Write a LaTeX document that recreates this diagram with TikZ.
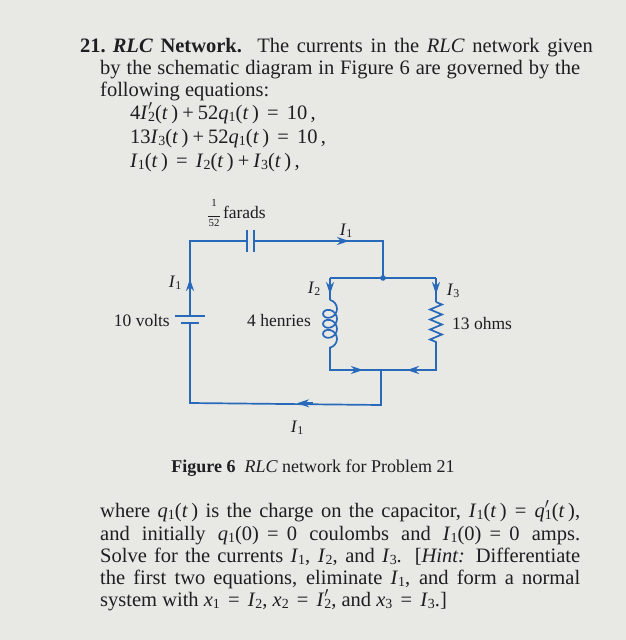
\documentclass[tikz,border=0pt]{standalone}
\usepackage{fontspec}
\usepackage{graphicx}
\setmainfont{Liberation Serif}
\usetikzlibrary{decorations.pathmorphing,decorations.markings,arrows.meta}
\definecolor{page}{RGB}{232,232,228}
\definecolor{wire}{RGB}{40,105,185}
\definecolor{ink}{RGB}{30,30,35}
\tikzset{
  w/.style={draw=wire,line width=1.7pt},
  txt/.style={anchor=base west,inner sep=0pt,text=ink,font=\fontsize{20.5}{22}\selectfont},
  lbl/.style={inner sep=1pt,text=ink,font=\fontsize{17.5}{20}\selectfont},
  arr/.style={w,-{Stealth[length=12pt,width=8pt]}},
}
\newcommand\jl[1]{\hbox to 480pt{#1}}
\newcommand\sbx[1]{\raisebox{-0.3ex}{\scalebox{0.68}{#1}}}
\newcommand\V[2]{\textit{#1}\sbx{#2}}
\newcommand\Vp[2]{\textit{#1}\rlap{\raisebox{0.1ex}{$'$}}\sbx{#2}}
\newcommand\eq{\hspace{0.4em}=\hspace{0.4em}}
\newcommand\pl{\hspace{0.2em}+\hspace{0.2em}}
\newcommand\tpar{(\textit{t}\,)}
\begin{document}
\begin{tikzpicture}[x=1pt,y=-1pt]
\fill[page] (0,0) rectangle (626,640);
\useasboundingbox (0,0) rectangle (626,640);
% text
\node[txt] (t1) at (80,52) {\textbf{21.}\hbox to 7pt{}\hbox to 480pt{\textbf{\textit{RLC} Network.}\ \ The currents in the \textit{RLC} network given}};
\node[txt] (t2) at (100,74) {\jl{by the schematic diagram in Figure 6 are governed by the}};
\node[txt] (t3) at (100,96) {following equations:};
\node[txt] (e1) at (130,119) {4\Vp{I}{2}\tpar\pl52\V{q}{1}\tpar\eq10\,,};
\node[txt] (e2) at (130,143) {13\V{I}{3}\tpar\pl52\V{q}{1}\tpar\eq10\,,};
\node[txt] (e3) at (130,167) {\V{I}{1}\tpar\eq\V{I}{2}\tpar\pl\V{I}{3}\tpar\,,};
\node[txt,anchor=base,font=\fontsize{18}{21}\selectfont] (cap) at (313,472) {\textbf{Figure 6}\ \ \textit{RLC} network for Problem 21};
\node[txt] (p1) at (100,517) {\jl{where \V{q}{1}\tpar\ is the charge on the capacitor, \V{I}{1}\tpar\eq\Vp{q}{1}\tpar,}};
\node[txt] (p2) at (100,540) {\jl{and initially \V{q}{1}(0)\eq0 coulombs and \V{I}{1}(0)\eq0 amps.}};
\node[txt] (p3) at (100,562) {\jl{Solve for the currents \V{I}{1}, \V{I}{2}, and \V{I}{3}. [\textit{Hint:} Differentiate}};
\node[txt] (p4) at (100,584) {\jl{the first two equations, eliminate \V{I}{1}, and form a normal}};
\node[txt] (p5) at (100,606) {system with \V{x}{1}\eq\V{I}{2}, \V{x}{2}\eq\Vp{I}{2}, and \V{x}{3}\eq\V{I}{3}.]};
% circuit coordinates
\coordinate (tl) at (190,241);
\coordinate (c1) at (247,241);
\coordinate (c2) at (254,241);
\coordinate (tr) at (383,241);
\coordinate (j) at (383,278);
\coordinate (bl) at (330,278);
\coordinate (br) at (436,278);
\coordinate (l1) at (330,300);
\coordinate (l2) at (330,348);
\coordinate (r1) at (436,302);
\coordinate (r2) at (436,343);
\coordinate (lb) at (330,370);
\coordinate (rb) at (436,370);
\coordinate (mb) at (381,370);
\coordinate (mbb) at (381,405);
\coordinate (blc) at (190,403);
\coordinate (bt1) at (190,316);
\coordinate (bt2) at (190,323);
% wires
\draw[w] (bt1) -- (tl) -- (c1);
\draw[w] (c2) -- (tr) -- (j);
\draw[w] (bl) -- (br);
\draw[w] (bl) -- (l1);
\draw[w] (l2) -- (lb) -- (rb) -- (r2);
\draw[w] (r1) -- (br);
\draw[w] (mb) -- (mbb) -- (blc) -- (bt2);
\fill[wire] (j) circle (2.8pt);
% capacitor
\draw[w] ([yshift=-11]c1) -- ([yshift=11]c1);
\draw[w] ([yshift=-11]c2) -- ([yshift=11]c2);
% battery
\draw[w] ([xshift=-15]bt1) -- ([xshift=15]bt1);
\draw[w] ([xshift=-9]bt2) -- ([xshift=9]bt2);
% inductor
\draw[w,decorate,decoration={coil,aspect=0.9,segment length=10pt,amplitude=7pt}] (l1) -- (l2);
% resistor
\draw[w,decorate,decoration={zigzag,segment length=10pt,amplitude=6pt}] (r1) -- (r2);
% arrows
\draw[arr] (190,294) -- (190,279);
\draw[arr] (333,241) -- (349,241);
\draw[arr] (330,279) -- (330,294);
\draw[arr] (436,279) -- (436,294);
\draw[arr] (347,370) -- (363,370);
\draw[arr] (423,370) -- (407,370);
\draw[arr] (313,403.3) -- (297,403.3);
% labels
\node[lbl] (lf) at (237,214) {\raisebox{0.2ex}{\scalebox{0.62}{\begin{tabular}{@{}c@{}}1\\[-5pt]\rule{1.1em}{0.5pt}\\[-4pt]52\end{tabular}}}\,farads};
\node[lbl] (li1) at (346,231) {\V{I}{1}};
\node[lbl] (li1b) at (175,283) {\V{I}{1}};
\node[lbl] (li2) at (314,289) {\V{I}{2}};
\node[lbl] (li3) at (453,291) {\V{I}{3}};
\node[lbl,anchor=east] (lv) at (171,321) {10 volts};
\node[lbl,anchor=east] (lh) at (312,321) {4 henries};
\node[lbl,anchor=west] (lo) at (451,324) {13 ohms};
\node[lbl] (li1c) at (297,428) {\V{I}{1}};
\end{tikzpicture}
\end{document}
